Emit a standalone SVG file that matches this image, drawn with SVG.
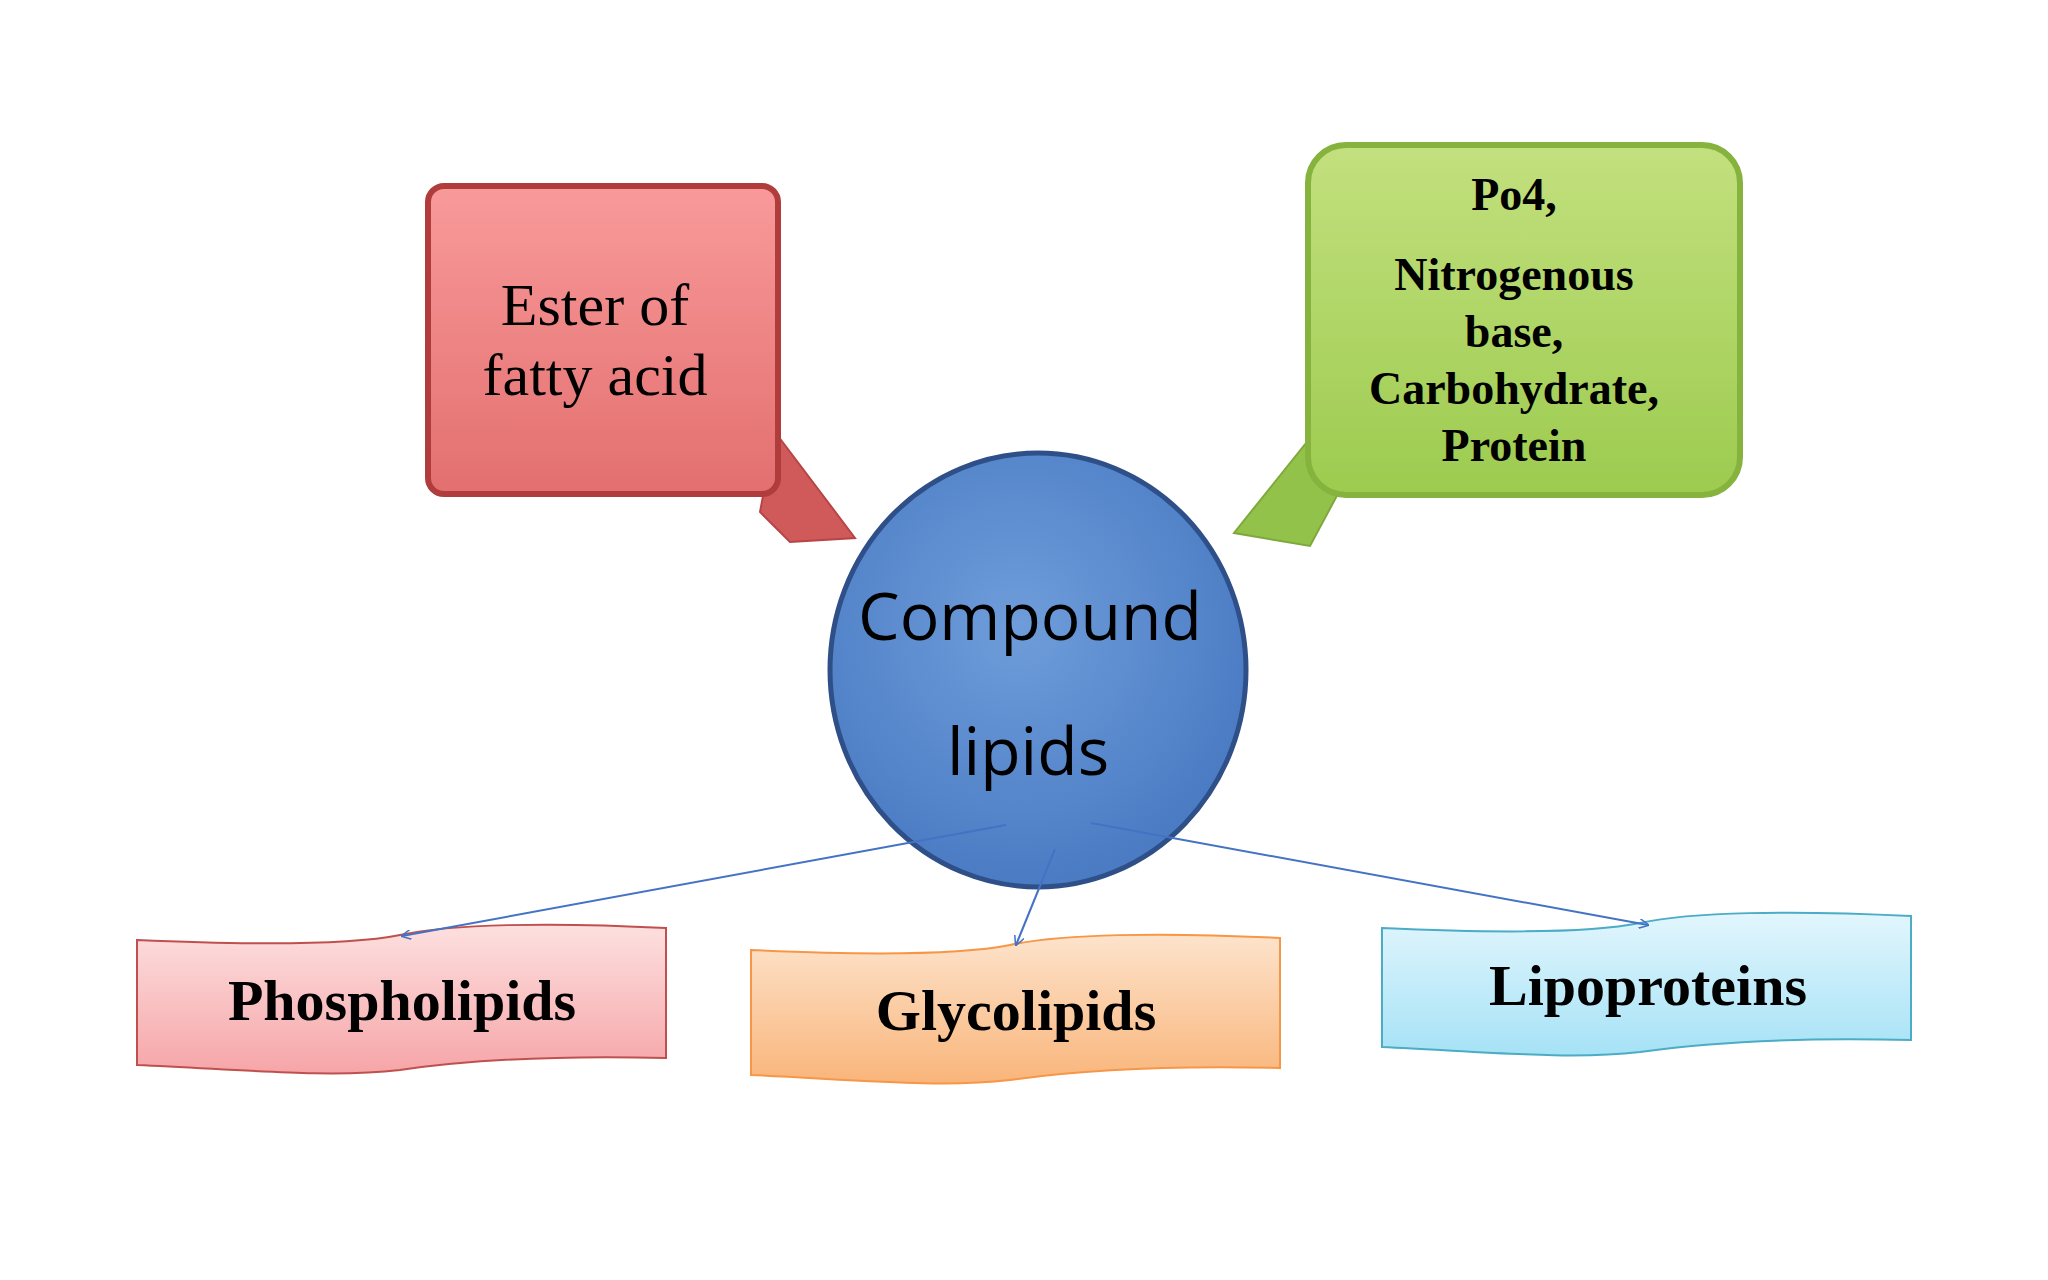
<svg xmlns="http://www.w3.org/2000/svg" width="2048" height="1280" viewBox="0 0 2048 1280">
<defs>
<linearGradient id="gr" x1="0" y1="0" x2="0" y2="1"><stop offset="0" stop-color="#f99a9a"/><stop offset="1" stop-color="#e36f6f"/></linearGradient>
<linearGradient id="gg" x1="0" y1="0" x2="0" y2="1"><stop offset="0" stop-color="#c3e07e"/><stop offset="1" stop-color="#9ccb4f"/></linearGradient>
<radialGradient id="gb" cx="0.45" cy="0.4" r="0.6"><stop offset="0" stop-color="#6f9ddb"/><stop offset="1" stop-color="#4a7bc3"/></radialGradient>
<linearGradient id="p1" x1="0" y1="0" x2="0" y2="1"><stop offset="0" stop-color="#fde0e0"/><stop offset="1" stop-color="#f6a5a8"/></linearGradient>
<linearGradient id="p2" x1="0" y1="0" x2="0" y2="1"><stop offset="0" stop-color="#fde3cc"/><stop offset="1" stop-color="#f9b57a"/></linearGradient>
<linearGradient id="p3" x1="0" y1="0" x2="0" y2="1"><stop offset="0" stop-color="#e2f6fd"/><stop offset="1" stop-color="#a6e2f6"/></linearGradient>
<marker id="ah" viewBox="0 0 10 10" refX="9" refY="5" markerWidth="10" markerHeight="10" markerUnits="userSpaceOnUse" orient="auto"><path d="M0,0 L10,5 L0,10" fill="none" stroke="#4472c4" stroke-width="1.5"/></marker>
</defs>
<style>
.bt{font-family:"Liberation Serif",serif;font-weight:bold;fill:#000;text-anchor:middle}
.conn{stroke:#4472c4;stroke-width:2;fill:none;marker-end:url(#ah)}
</style>
<rect width="2048" height="1280" fill="#fff"/>
<g id="ester">
<path d="M775,432 L855,538 L790,542 L760,512 Z" fill="#d05a5a" stroke="#b84545" stroke-width="2"/>
<rect x="428" y="186" width="350" height="308" rx="16" fill="url(#gr)" stroke="#b03c3c" stroke-width="6"/>
<text x="595" y="325" font-family="Liberation Serif,serif" font-size="60" text-anchor="middle">Ester of</text>
<text x="595" y="395" font-family="Liberation Serif,serif" font-size="60" text-anchor="middle">fatty acid</text>
</g>
<g id="green">
<path d="M1310,438 L1234,533 L1310,546 L1340,490 Z" fill="#93c24a" stroke="#7fa83c" stroke-width="2"/>
<rect x="1308" y="145" width="432" height="350" rx="38" fill="url(#gg)" stroke="#86b23e" stroke-width="6"/>
<text class="bt" x="1514" y="210" font-size="46">Po4,</text>
<text class="bt" x="1514" y="290" font-size="46">Nitrogenous</text>
<text class="bt" x="1514" y="347" font-size="46">base,</text>
<text class="bt" x="1514" y="404" font-size="46">Carbohydrate,</text>
<text class="bt" x="1514" y="461" font-size="46">Protein</text>
</g>
<g id="compound">
<ellipse cx="1038" cy="670" rx="208" ry="217" fill="url(#gb)" stroke="#2f4f88" stroke-width="5"/>
<text x="1030" y="640" font-family="Open Sans,sans-serif" font-size="66" text-anchor="middle">Compound</text>
<text x="1028" y="775" font-family="Open Sans,sans-serif" font-size="66" text-anchor="middle">lipids</text>
</g>
<g id="phospholipids">
<path d="M137,940 C250,945 350,945 400,935 C450,924 550,922 666,928 L666,1058 C550,1055 470,1060 400,1070 C330,1078 250,1070 137,1065 Z" fill="url(#p1)" stroke="#c0504d" stroke-width="2"/>
<text class="bt" x="402" y="1020" font-size="58">Phospholipids</text>
</g>
<g id="glycolipids">
<path d="M751,950 C860,955 960,955 1010,945 C1060,934 1160,932 1280,938 L1280,1068 C1160,1065 1080,1070 1010,1080 C940,1088 860,1080 751,1075 Z" fill="url(#p2)" stroke="#f79646" stroke-width="2"/>
<text class="bt" x="1016" y="1030" font-size="58">Glycolipids</text>
</g>
<g id="lipoproteins">
<path d="M1382,928 C1490,933 1590,933 1640,923 C1690,912 1790,910 1911,916 L1911,1040 C1790,1037 1710,1042 1640,1052 C1570,1060 1490,1052 1382,1047 Z" fill="url(#p3)" stroke="#4bacc6" stroke-width="2"/>
<text class="bt" x="1648" y="1005" font-size="58">Lipoproteins</text>
</g>
<g id="connectors">
<path class="conn" d="M1006,825 L402,936"/>
<path class="conn" d="M1055,849 L1016,945"/>
<path class="conn" d="M1091,823 L1648,925"/>
</g>
</svg>
